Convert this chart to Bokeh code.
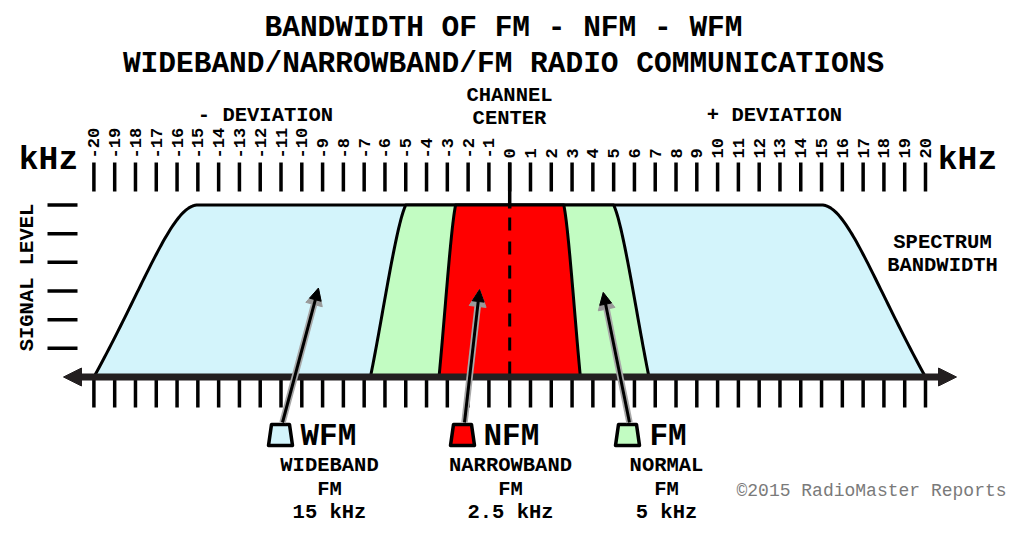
import numpy as np
from bokeh.plotting import figure
from bokeh.models import Range1d, Arrow, NormalHead
from bokeh.core.properties import value
from bokeh.embed import file_html
from bokeh.resources import INLINE

# ---------------- data ----------------
khz_ticks = list(range(-20, 21))
tick_labels = [str(k) for k in khz_ticks]
signal_levels = [1, 2, 3, 4, 5, 6]
top_level = 6
modes = ["WFM", "FM", "NFM"]                      # drawing order (widest first)
mode_names = {"WFM": "WIDEBAND", "NFM": "NARROWBAND", "FM": "NORMAL"}
mode_bw_labels = {"WFM": "15 kHz", "NFM": "2.5 kHz", "FM": "5 kHz"}
flat_halfwidth = {"WFM": 15.0, "FM": 5.0, "NFM": 2.6}     # kHz, edge of flat top
base_halfwidth = {"WFM": 20.0, "FM": 6.7, "NFM": 3.4}     # kHz, edge at baseline
mode_colors = {"WFM": "#d3f4fb", "FM": "#c2fcc2", "NFM": "#ff0000"}
# arrow tip (kHz, level) pointing into each band
arrow_tip = {"WFM": (-9.2, 3.1), "NFM": (-1.45, 3.05), "FM": (4.5, 2.95)}

# ---------------- layout helpers (image pixel -> data) ----------------
PX0, PXS = 509.2, 20.79
PY0, PYS = 376.5, 28.67
W, H = 1007, 535


def X(px):
    return (px - PX0) / PXS


def Y(py):
    return (PY0 - py) / PYS


FONT = value("Liberation Mono")

p = figure(width=W, height=H, x_range=Range1d(X(0), X(W)),
           y_range=Range1d(Y(H), Y(0)), output_backend="svg",
           toolbar_location=None, x_axis_location=None, y_axis_location=None,
           min_border=0, background_fill_color="white", border_fill_color="white")
p.outline_line_color = None
p.xgrid.grid_line_color = None
p.ygrid.grid_line_color = None


def bez(s, c1, c2):
    return 3 * (1 - s) ** 2 * s * c1 + 3 * (1 - s) * s ** 2 * c2 + s ** 3


def side(bottom, top, c1, c2, n=60):
    s = np.linspace(0, 1, n)
    return bottom + (top - bottom) * bez(s, c1[0], c2[0]), top_level * bez(s, c1[1], c2[1])


ctrl = {"WFM": ((0.5, 0.55), (0.75, 1.0)),
        "FM": ((0.33, 0.33), (0.72, 0.88)),
        "NFM": ((0.33, 0.33), (0.72, 0.88))}

for m in modes:
    c1, c2 = ctrl[m]
    lx, ly = side(-base_halfwidth[m], -flat_halfwidth[m], c1, c2)
    rx, ry = side(base_halfwidth[m], flat_halfwidth[m], c1, c2)
    xs = np.concatenate([lx, rx[::-1]])
    ys = np.concatenate([ly, ry[::-1]])
    p.patch(xs, ys, fill_color=mode_colors[m], line_color="black", line_width=3,
            line_join="round")

# center line (channel center)
p.line([0, 0], [Y(217), 0], line_color="black", line_width=3, line_dash="13 11")

# top kHz ticks
p.segment(x0=khz_ticks, y0=[Y(162)] * len(khz_ticks), x1=khz_ticks,
          y1=[Y(191)] * len(khz_ticks), line_color="black", line_width=3.5)
p.segment(x0=[0], y0=[Y(162)], x1=[0], y1=[Y(208)], line_color="black", line_width=3.5)
p.text(x=khz_ticks, y=[Y(158)] * len(khz_ticks), text=tick_labels, angle=np.pi / 2,
       text_align="left", text_baseline="middle", text_font=FONT,
       text_font_style="bold", text_font_size="17px", text_color="black")

# bottom ticks
p.segment(x0=khz_ticks, y0=[Y(379)] * len(khz_ticks), x1=khz_ticks,
          y1=[Y(407)] * len(khz_ticks), line_color="black", line_width=3.5)

# signal level ticks
p.segment(x0=[X(47)] * len(signal_levels), y0=signal_levels,
          x1=[X(77)] * len(signal_levels), y1=signal_levels,
          line_color="black", line_width=3.5)

# main frequency axis with arrows both ends
p.add_layout(Arrow(start=NormalHead(size=18, fill_color="#231f20", line_color="#231f20", line_width=1),
                   end=NormalHead(size=18, fill_color="#231f20", line_color="#231f20", line_width=1),
                   x_start=X(63), y_start=0, x_end=X(956), y_end=0,
                   line_color="#231f20", line_width=7))

# legend markers, arrows and labels
box_cx = {"WFM": 280, "NFM": 462, "FM": 627}
label_x = {"WFM": 300, "NFM": 483, "FM": 649}
sub_cx = {"WFM": 329, "NFM": 510, "FM": 666}
for m in ["WFM", "NFM", "FM"]:
    cx = box_cx[m]
    tx, ty = arrow_tip[m]
    sx, sy = X(cx + 2), Y(422)
    # shadow
    p.add_layout(Arrow(end=NormalHead(size=17, fill_color="#9a9a9a", line_color="#9a9a9a", line_width=1),
                       x_start=sx, y_start=sy, x_end=tx, y_end=ty,
                       line_color="#a8a8a8", line_width=6.5))
    p.add_layout(Arrow(end=NormalHead(size=12, fill_color="black", line_color="black", line_width=1),
                       x_start=sx, y_start=sy, x_end=tx, y_end=ty,
                       line_color="black", line_width=3))
    bx = [X(cx - 9), X(cx + 9), X(cx + 12), X(cx - 12)]
    by = [Y(424), Y(424), Y(445), Y(445)]
    p.patch(bx, by, fill_color=mode_colors[m], line_color="black", line_width=3.5,
            line_join="round")
    p.text(x=[X(label_x[m])], y=[Y(436)], text=[m], text_align="left",
           text_baseline="middle", text_font=FONT, text_font_style="bold",
           text_font_size="31px", text_color="black")
    p.text(x=[X(sub_cx[m])] * 3, y=[Y(465), Y(489), Y(512)],
           text=[mode_names[m], "FM", mode_bw_labels[m]], text_align="center",
           text_baseline="middle", text_font=FONT, text_font_style="bold",
           text_font_size="20.5px", text_color="black")


# titles and captions
def txt(px, py, s, size, align="center", color="black", style="bold", angle=0.0):
    p.text(x=[X(px)], y=[Y(py)], text=[s], text_align=align, text_baseline="middle",
           text_font=FONT, text_font_style=style, text_font_size=size,
           text_color=color, angle=angle)


txt(503, 27, "BANDWIDTH OF FM - NFM - WFM", "29.5px")
txt(503, 63, "WIDEBAND/NARROWBAND/FM RADIO COMMUNICATIONS", "29.5px")
txt(509, 95, "CHANNEL", "20.5px")
txt(509, 118, "CENTER", "20.5px")
txt(265, 115, "- DEVIATION", "20.5px")
txt(774, 115, "+ DEVIATION", "20.5px")
txt(48, 160, "kHz", "33px")
txt(967, 160, "kHz", "33px")
txt(942, 242, "SPECTRUM", "20.5px")
txt(942, 265, "BANDWIDTH", "20.5px")
txt(27, 277, "SIGNAL LEVEL", "20.5px", angle=np.pi / 2)
txt(736, 490, "\u00a92015 RadioMaster Reports", "18px", align="left", color="#7a7a7a",
    style="normal")

html = file_html(p, INLINE)
open("out.html", "w").write(html)
